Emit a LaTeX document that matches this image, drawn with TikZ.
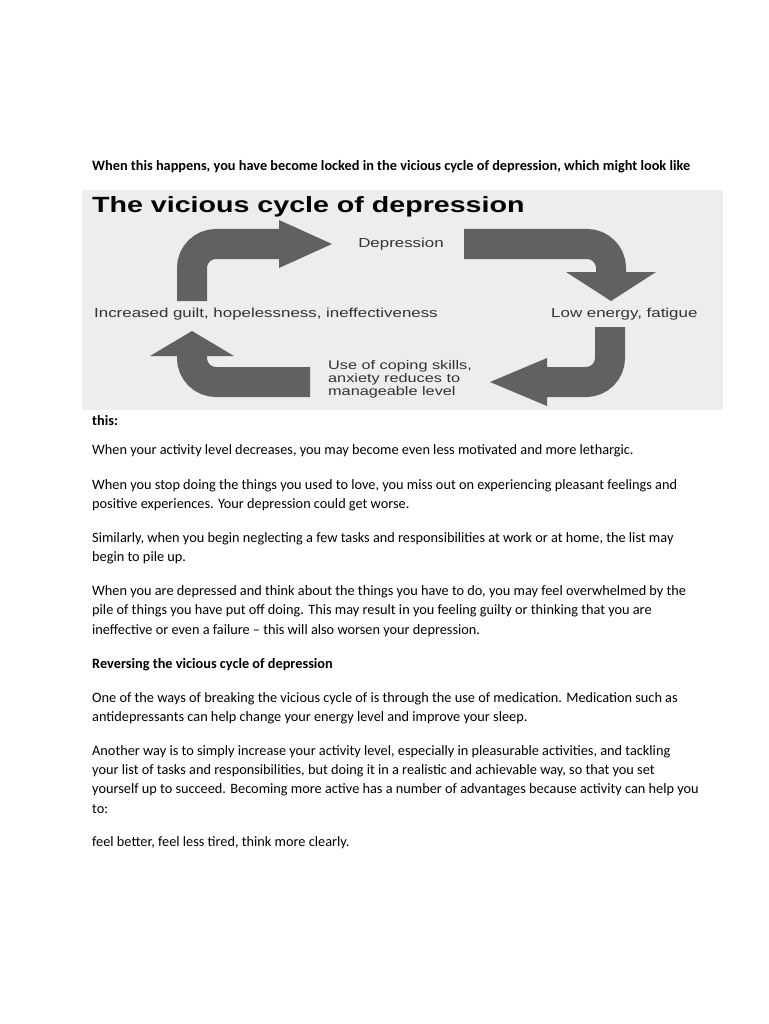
\documentclass[tikz,border=0pt]{standalone}
\usepackage{fontspec}
\usepackage{graphicx}
\setmainfont{Carlito}
\newfontfamily\arialf{Liberation Sans}
\newcommand{\wide}[1]{\scalebox{1.3}[1]{#1}}
\begin{document}
\begin{tikzpicture}[x=1pt,y=-1pt,
  body/.style={anchor=west,inner sep=0pt,font=\fontsize{14.3}{16}\selectfont},
  bodyb/.style={body,font=\bfseries\fontsize{14.3}{16}\selectfont},
  lab/.style={inner sep=0pt,font=\arialf\fontsize{13}{13}\selectfont,text=black!80},
  bar/.style={draw=black!62,line width=30pt,rounded corners=24pt},
  head/.style={fill=black!62}]
\useasboundingbox (0,0) rectangle (768,1024);
\fill[white] (0,0) rectangle (768,1024);
\node[bodyb] (l0) at (92,167) {When this happens, you have become locked in the vicious cycle of depression, which might look like};
\fill[black!7] (82,190) rectangle (723,410);
\node[lab,anchor=west,font=\arialf\bfseries\fontsize{22}{22}\selectfont,text=black] (title) at (92,207) {\wide{The vicious cycle of depression}};
\node[lab] (dep) at (401,244) {\wide{Depression}};
\node[lab,anchor=west] (low) at (551,314) {\wide{Low energy, fatigue}};
\node[lab,anchor=west] (guilt) at (94,314) {\wide{Increased guilt, hopelessness, ineffectiveness}};
\node[lab,anchor=west] (cope) at (328,380) {\wide{\fontsize{12.5}{12.8}\selectfont\begin{tabular}{@{}l@{}}Use of coping skills,\\anxiety reduces to\\manageable level\end{tabular}}};
% arrow 1
\coordinate (a1s) at (192,301); \coordinate (a1c) at (192,244); \coordinate (a1e) at (282,244);
\draw[bar] (a1s) -- (a1c) -- (a1e);
\fill[head] (279,220) -- (332,244) -- (279,268) -- cycle;
% arrow 2
\coordinate (a2s) at (464,244); \coordinate (a2c) at (611,244); \coordinate (a2e) at (611,275);
\draw[bar] (a2s) -- (a2c) -- (a2e);
\fill[head] (566,272) -- (611,301) -- (656,272) -- cycle;
% arrow 3
\coordinate (a3s) at (610,327); \coordinate (a3c) at (610,382); \coordinate (a3e) at (544,382);
\draw[bar] (a3s) -- (a3c) -- (a3e);
\fill[head] (547,358) -- (490,382) -- (547,406) -- cycle;
% arrow 4
\coordinate (a4s) at (310,382); \coordinate (a4c) at (192,382); \coordinate (a4e) at (192,353);
\draw[bar] (a4s) -- (a4c) -- (a4e);
\fill[head] (150,356) -- (192,331) -- (234,356) -- cycle;
\node[bodyb] (t0) at (92,421) {this:};
\node[body] (t1) at (92,451) {When your activity level decreases, you may become even less motivated and more lethargic.};
\node[body] (t2) at (92,486) {When you stop doing the things you used to love, you miss out on experiencing pleasant feelings and};
\node[body] (t3) at (92,505) {positive experiences. Your depression could get worse.};
\node[body] (t4) at (92,539) {Similarly, when you begin neglecting a few tasks and responsibilities at work or at home, the list may};
\node[body] (t5) at (92,558) {begin to pile up.};
\node[body] (t6) at (92,592) {When you are depressed and think about the things you have to do, you may feel overwhelmed by the};
\node[body] (t7) at (92,611) {pile of things you have put off doing. This may result in you feeling guilty or thinking that you are};
\node[body] (t8) at (92,631) {ineffective or even a failure -- this will also worsen your depression.};
\node[bodyb] (t9) at (92,665) {Reversing the vicious cycle of depression};
\node[body] (t10) at (92,699) {One of the ways of breaking the vicious cycle of is through the use of medication. Medication such as};
\node[body] (t11) at (92,718) {antidepressants can help change your energy level and improve your sleep.};
\node[body] (t12) at (92,752) {Another way is to simply increase your activity level, especially in pleasurable activities, and tackling};
\node[body] (t13) at (92,771) {your list of tasks and responsibilities, but doing it in a realistic and achievable way, so that you set};
\node[body] (t14) at (92,790) {yourself up to succeed. Becoming more active has a number of advantages because activity can help you};
\node[body] (t15) at (92,809) {to:};
\node[body] (t16) at (92,843) {feel better, feel less tired, think more clearly.};
\end{tikzpicture}
\end{document}
